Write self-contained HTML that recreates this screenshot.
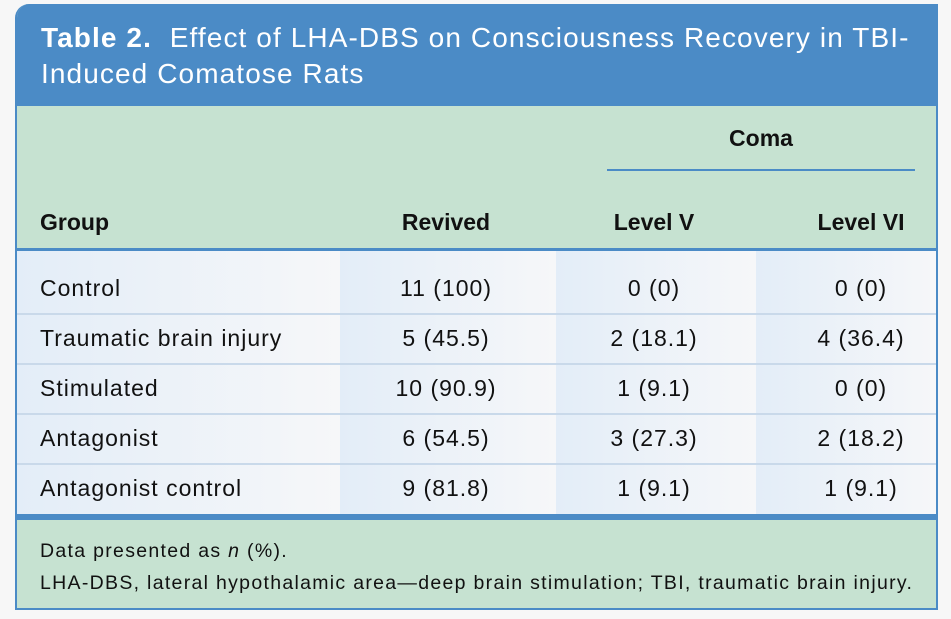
<!DOCTYPE html>
<html><head><meta charset="utf-8"><style>
body{margin:0;width:951px;height:619px;background:#f7f7f7;font-family:"Liberation Sans",sans-serif;position:relative;overflow:hidden}
.box{position:absolute;left:15px;top:4px;width:919px;height:604px;border-right:2px solid #4b8bc6;border-bottom:2px solid #4b8bc6;border-left:2px solid #4b8bc6;border-top-left-radius:14px;overflow:hidden;background:#c6e2d1}
.title{position:absolute;left:0;top:0;width:919px;height:102px;background:#4b8bc6;color:#fff;font-size:28px;line-height:36px;padding:16px 0 0 24px;box-sizing:border-box;letter-spacing:1.1px}
.hdr{position:absolute;top:103px;left:0;width:919px;height:142px;background:#c6e2d1}
.t{position:absolute;white-space:nowrap;color:#111}
.b{font-weight:bold}
.bl{position:absolute;left:0;width:919px;background:#4b8bc6}
.col{position:absolute;top:247px;height:264px}
.row{position:absolute;left:0;width:919px;height:2px;background:#c9d9ea}
.c{transform:translateX(-50%)}
.f{font-size:19.5px;letter-spacing:1.3px}
</style></head><body>
<div class="box">
 <div class="title"><b>Table 2.</b>&nbsp; Effect of LHA-DBS on Consciousness Recovery in TBI-<br>Induced Comatose Rats</div>
 <div class="hdr">
  <div class="t b c" style="left:744px;top:18px;font-size:23px">Coma</div>
  <div style="position:absolute;left:590px;top:62px;width:308px;height:2px;background:#4b8bc6"></div>
  <div class="t b" style="left:23px;top:102px;font-size:23px">Group</div>
  <div class="t b c" style="left:429px;top:102px;font-size:23px">Revived</div>
  <div class="t b c" style="left:637px;top:102px;font-size:23px">Level V</div>
  <div class="t b c" style="left:844px;top:102px;font-size:23px">Level VI</div>
 </div>
 <div class="bl" style="top:244px;height:3px"></div>
 <div class="col" style="left:0;width:323px;background:linear-gradient(90deg,#e3edf8,#f6f7f9)"></div>
 <div class="col" style="left:323px;width:216px;background:linear-gradient(90deg,#e3edf8,#f6f7f9)"></div>
 <div class="col" style="left:539px;width:200px;background:linear-gradient(90deg,#e3edf8,#f6f7f9)"></div>
 <div class="col" style="left:739px;width:180px;background:linear-gradient(90deg,#e3edf8,#f6f7f9)"></div>
 <div id="rows"></div>
 <div class="bl" style="top:510px;height:6px"></div>
 <div class="t f" style="left:23px;top:536px">Data presented as <i>n</i> (%).</div>
 <div class="t f" style="left:23px;top:568px">LHA-DBS, lateral hypothalamic area—deep brain stimulation; TBI, traumatic brain injury.</div>
</div>
<script>
const groups=["Control","Traumatic brain injury","Stimulated","Antagonist","Antagonist control"];
const revived=["11 (100)","5 (45.5)","10 (90.9)","6 (54.5)","9 (81.8)"];
const levelV=["0 (0)","2 (18.1)","1 (9.1)","3 (27.3)","1 (9.1)"];
const levelVI=["0 (0)","4 (36.4)","0 (0)","2 (18.2)","1 (9.1)"];
const host=document.getElementById('rows');
groups.forEach((g,i)=>{
 const y=271+i*50;
 const cells=[[g,23,false,'group'],[revived[i],429,true,'revived'],[levelV[i],637,true,'level-v'],[levelVI[i],844,true,'level-vi']];
 cells.forEach(c=>{
  const d=document.createElement('div');
  d.className='t'+(c[2]?' c':'');
  d.style.left=c[1]+'px';d.style.top=(y)+'px';d.style.fontSize='23px';d.style.letterSpacing='1px';
  d.textContent=c[0];
  
  
  host.appendChild(d);
 });
 if(i<4){const r=document.createElement('div');r.className='row';r.style.top=(y+38)+'px';
  
  
  host.appendChild(r);}
});
</script>
</body></html>
